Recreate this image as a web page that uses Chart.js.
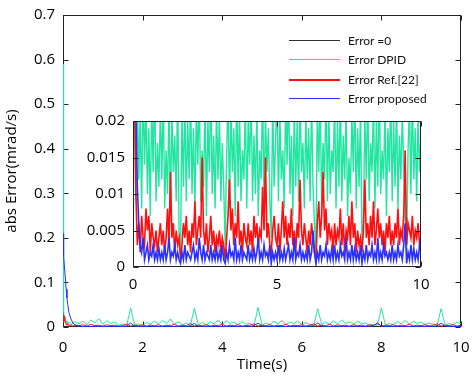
<!DOCTYPE html>
<html lang="en">
<head>
    <meta charset="UTF-8">
    <title>abs Error</title>
    <script src="https://cdn.jsdelivr.net/npm/chart.js"></script>
    <style>
        body { margin: 0; background: #fff; }
        .wrap { position: relative; width: 474px; height: 382px; }
        #mainChart { position: absolute; left: 0; top: 0; }
        #insetChart { position: absolute; left: 70px; top: 108px; }
        .legend { position: absolute; left: 289px; top: 0; font: 12px Lato, sans-serif; color: #111; }
        .legend div { position: absolute; left: 0; height: 21px; width: 160px; display: flex; align-items: center; }
        .legend span.line { display: inline-block; width: 51px; height: 1px; margin-right: 8px; }
    </style>
</head>
<body>
<div class="wrap">
    <canvas id="mainChart" width="474" height="382"></canvas>
    <canvas id="insetChart" width="360" height="195"></canvas>
    <div class="legend" id="legend"></div>
</div>
<script>
    // series names and colours
    const seriesNames = ['Error =0', 'Error DPID', 'Error Ref.[22]', 'Error proposed'];
    const seriesColors = ['#333333', '#22e6a0', '#ff1010', '#2a30ff'];

    // main axes: time (s) and abs error
    const mainTime = [0, 0.01, 0.02, 0.04, 0.06, 0.08, 0.1, 0.12, 0.15, 0.2, 0.25, 0.3,
        0.4, 0.5, 0.6, 0.7, 0.8, 0.9, 1.0, 1.1, 1.2, 1.3,
        1.4, 1.5, 1.6, 1.7, 1.8, 1.9, 2.0, 2.1, 2.2, 2.3,
        2.4, 2.5, 2.6, 2.7, 2.8, 2.9, 3.0, 3.1, 3.2, 3.3,
        3.4, 3.5, 3.6, 3.7, 3.8, 3.9, 4.0, 4.1, 4.2, 4.3,
        4.4, 4.5, 4.6, 4.7, 4.8, 4.9, 5.0, 5.1, 5.2, 5.3,
        5.4, 5.5, 5.6, 5.7, 5.8, 5.9, 6.0, 6.1, 6.2, 6.3,
        6.4, 6.5, 6.6, 6.7, 6.8, 6.9, 7.0, 7.1, 7.2, 7.3,
        7.4, 7.5, 7.6, 7.7, 7.8, 7.9, 8.0, 8.1, 8.2, 8.3,
        8.4, 8.5, 8.6, 8.7, 8.8, 8.9, 9.0, 9.1, 9.2, 9.3,
        9.4, 9.5, 9.6, 9.7, 9.8, 9.9, 10.0];
    const dpidMain = [0.59, 0.12, 0.035, 0.012, 0.02, 0.008, 0.014, 0.006, 0.011, 0.004, 0.009, 0.012,
        0.007, 0.013, 0.005, 0.016, 0.009, 0.019, 0.006, 0.014, 0.008, 0.011,
        0.004, 0.006, 0.003, 0.043, 0.004, 0.007, 0.003, 0.01, 0.006, 0.013,
        0.007, 0.015, 0.008, 0.018, 0.006, 0.012, 0.005, 0.009, 0.003, 0.042,
        0.005, 0.01, 0.004, 0.012, 0.007, 0.016, 0.006, 0.014, 0.008, 0.011,
        0.005, 0.012, 0.006, 0.008, 0.003, 0.044, 0.004, 0.009, 0.005, 0.013,
        0.007, 0.015, 0.006, 0.011, 0.008, 0.013, 0.005, 0.01, 0.006, 0.004,
        0.041, 0.005, 0.011, 0.006, 0.014, 0.007, 0.016, 0.008, 0.012, 0.006,
        0.013, 0.007, 0.009, 0.004, 0.006, 0.003, 0.043, 0.004, 0.008, 0.005,
        0.012, 0.007, 0.015, 0.006, 0.013, 0.008, 0.011, 0.005, 0.009, 0.006,
        0.003, 0.041, 0.004, 0.008, 0.005, 0.011, 0.007];
    const refMain = [0.02, 0.015, 0.01, 0.025, 0.012, 0.006, 0.004, 0.007, 0.003, 0.005, 0.002, 0.004,
        0.003, 0.005, 0.002, 0.006, 0.003, 0.004, 0.002, 0.005, 0.003, 0.004,
        0.002, 0.003, 0.007, 0.002, 0.004, 0.003, 0.005, 0.002, 0.004, 0.003,
        0.005, 0.002, 0.004, 0.003, 0.006, 0.002, 0.004, 0.003, 0.008, 0.002,
        0.004, 0.003, 0.005, 0.002, 0.004, 0.003, 0.006, 0.002, 0.004, 0.003,
        0.005, 0.002, 0.003, 0.004, 0.007, 0.002, 0.004, 0.003, 0.005, 0.002,
        0.004, 0.003, 0.006, 0.002, 0.004, 0.003, 0.005, 0.002, 0.004, 0.007,
        0.002, 0.004, 0.003, 0.006, 0.002, 0.005, 0.003, 0.004, 0.002, 0.005,
        0.003, 0.004, 0.002, 0.005, 0.003, 0.008, 0.002, 0.004, 0.003, 0.005,
        0.002, 0.004, 0.003, 0.006, 0.002, 0.004, 0.003, 0.005, 0.002, 0.004,
        0.007, 0.002, 0.004, 0.003, 0.005, 0.002, 0.004];
    const propMain = [0.21, 0.19, 0.16, 0.13, 0.11, 0.085, 0.065, 0.05, 0.032, 0.018, 0.009, 0.005,
        0.002, 0.001, 0.0015, 0.001, 0.002, 0.001, 0.0015, 0.001, 0.002, 0.001,
        0.0015, 0.001, 0.002, 0.009, 0.002, 0.001, 0.0015, 0.001, 0.002, 0.001,
        0.0015, 0.001, 0.002, 0.001, 0.0015, 0.001, 0.002, 0.001, 0.003, 0.008,
        0.002, 0.001, 0.0015, 0.001, 0.002, 0.001, 0.0015, 0.001, 0.002, 0.001,
        0.0015, 0.001, 0.002, 0.001, 0.003, 0.009, 0.002, 0.001, 0.0015, 0.001,
        0.002, 0.001, 0.0015, 0.001, 0.002, 0.001, 0.0015, 0.001, 0.002, 0.003,
        0.009, 0.002, 0.001, 0.0015, 0.001, 0.002, 0.001, 0.0015, 0.001, 0.002,
        0.001, 0.0015, 0.001, 0.002, 0.003, 0.009, 0.002, 0.001, 0.0015, 0.001,
        0.002, 0.001, 0.0015, 0.001, 0.002, 0.001, 0.0015, 0.001, 0.002, 0.001,
        0.003, 0.009, 0.002, 0.001, 0.0015, 0.001, 0.002];
    const zeroTime = [0, 10];
    const zeroErr = [0, 0];

    // inset axes (zoom on 0..0.02)
    const insetTime = [
        0, 0.05, 0.1, 0.15, 0.2, 0.25, 0.3, 0.35, 0.4, 0.45, 0.5, 0.55, 0.6, 0.65, 0.7, 0.75, 0.8, 0.85, 0.9, 0.95,
        1, 1.05, 1.1, 1.15, 1.2, 1.25, 1.3, 1.35, 1.4, 1.45, 1.5, 1.55, 1.6, 1.65, 1.7, 1.75, 1.8, 1.85, 1.9, 1.95,
        2, 2.05, 2.1, 2.15, 2.2, 2.25, 2.3, 2.35, 2.4, 2.45, 2.5, 2.55, 2.6, 2.65, 2.7, 2.75, 2.8, 2.85, 2.9, 2.95,
        3, 3.05, 3.1, 3.15, 3.2, 3.25, 3.3, 3.35, 3.4, 3.45, 3.5, 3.55, 3.6, 3.65, 3.7, 3.75, 3.8, 3.85, 3.9, 3.95,
        4, 4.05, 4.1, 4.15, 4.2, 4.25, 4.3, 4.35, 4.4, 4.45, 4.5, 4.55, 4.6, 4.65, 4.7, 4.75, 4.8, 4.85, 4.9, 4.95,
        5, 5.05, 5.1, 5.15, 5.2, 5.25, 5.3, 5.35, 5.4, 5.45, 5.5, 5.55, 5.6, 5.65, 5.7, 5.75, 5.8, 5.85, 5.9, 5.95,
        6, 6.05, 6.1, 6.15, 6.2, 6.25, 6.3, 6.35, 6.4, 6.45, 6.5, 6.55, 6.6, 6.65, 6.7, 6.75, 6.8, 6.85, 6.9, 6.95,
        7, 7.05, 7.1, 7.15, 7.2, 7.25, 7.3, 7.35, 7.4, 7.45, 7.5, 7.55, 7.6, 7.65, 7.7, 7.75, 7.8, 7.85, 7.9, 7.95,
        8, 8.05, 8.1, 8.15, 8.2, 8.25, 8.3, 8.35, 8.4, 8.45, 8.5, 8.55, 8.6, 8.65, 8.7, 8.75, 8.8, 8.85, 8.9, 8.95,
        9, 9.05, 9.1, 9.15, 9.2, 9.25, 9.3, 9.35, 9.4, 9.45, 9.5, 9.55, 9.6, 9.65, 9.7, 9.75, 9.8, 9.85, 9.9, 9.95,
        10];
    const dpidInset = [
        0.6, 0.022, 0.009, 0.024, 0.012, 0.021, 0.008, 0.025, 0.014, 0.022, 0.01, 0.019, 0.007, 0.023, 0.013, 0.026, 0.009, 0.017, 0.011, 0.022,
        0.012, 0.024, 0.008, 0.016, 0.01, 0.023, 0.007, 0.021, 0.013, 0.018, 0.009, 0.025, 0.004, 0.002, 0.021, 0.011, 0.023, 0.009, 0.02, 0.012,
        0.024, 0.01, 0.019, 0.008, 0.022, 0.014, 0.025, 0.009, 0.016, 0.011, 0.023, 0.007, 0.02, 0.013, 0.026, 0.01, 0.018, 0.008, 0.022, 0.012,
        0.021, 0.009, 0.017, 0.011, 0.003, 0.015, 0.024, 0.008, 0.022, 0.013, 0.019, 0.007, 0.025, 0.011, 0.021, 0.009, 0.016, 0.012, 0.023, 0.008,
        0.02, 0.014, 0.024, 0.009, 0.018, 0.01, 0.022, 0.007, 0.016, 0.012, 0.025, 0.008, 0.021, 0.013, 0.019, 0.009, 0.004, 0.023, 0.011, 0.017,
        0.024, 0.009, 0.021, 0.012, 0.016, 0.008, 0.023, 0.014, 0.026, 0.01, 0.018, 0.007, 0.022, 0.011, 0.02, 0.009, 0.024, 0.013, 0.017, 0.008,
        0.021, 0.012, 0.019, 0.009, 0.023, 0.011, 0.006, 0.002, 0.022, 0.013, 0.024, 0.008, 0.017, 0.012, 0.025, 0.009, 0.021, 0.01, 0.016, 0.013,
        0.023, 0.008, 0.02, 0.011, 0.024, 0.009, 0.018, 0.012, 0.022, 0.007, 0.015, 0.01, 0.021, 0.013, 0.025, 0.008, 0.019, 0.011, 0.022, 0.003,
        0.006, 0.021, 0.012, 0.024, 0.009, 0.017, 0.013, 0.023, 0.008, 0.02, 0.011, 0.025, 0.01, 0.016, 0.012, 0.022, 0.007, 0.019, 0.013, 0.024,
        0.009, 0.02, 0.011, 0.023, 0.008, 0.018, 0.012, 0.021, 0.014, 0.007, 0.002, 0.016, 0.022, 0.01, 0.024, 0.012, 0.019, 0.009, 0.021, 0.013,
        0.018];
    const refInset = [
        0.05, 0.025, 0.01, 0.003, 0.006, 0.002, 0.007, 0.004, 0.003, 0.008, 0.005, 0.007, 0.002, 0.006, 0.004, 0.003, 0.005, 0.002, 0.004, 0.006,
        0.003, 0.005, 0.002, 0.004, 0.008, 0.003, 0.013, 0.004, 0.006, 0.002, 0.005, 0.003, 0.004, 0.001, 0.003, 0.006, 0.004, 0.007, 0.003, 0.005,
        0.002, 0.006, 0.004, 0.009, 0.003, 0.005, 0.007, 0.004, 0.015, 0.005, 0.003, 0.006, 0.002, 0.004, 0.007, 0.003, 0.005, 0.002, 0.004, 0.003,
        0.005, 0.002, 0.004, 0.003, 0.001, 0.004, 0.007, 0.012, 0.005, 0.008, 0.003, 0.006, 0.004, 0.009, 0.003, 0.005, 0.002, 0.006, 0.004, 0.003,
        0.006, 0.003, 0.005, 0.002, 0.007, 0.004, 0.006, 0.003, 0.005, 0.004, 0.011, 0.005, 0.015, 0.004, 0.006, 0.003, 0.002, 0.005, 0.007, 0.004,
        0.003, 0.006, 0.002, 0.005, 0.009, 0.004, 0.007, 0.003, 0.006, 0.004, 0.008, 0.003, 0.005, 0.002, 0.006, 0.004, 0.012, 0.005, 0.003, 0.006,
        0.004, 0.002, 0.005, 0.003, 0.006, 0.004, 0.002, 0.001, 0.006, 0.009, 0.004, 0.007, 0.013, 0.005, 0.008, 0.003, 0.006, 0.004, 0.005, 0.002,
        0.006, 0.003, 0.005, 0.004, 0.008, 0.003, 0.006, 0.002, 0.005, 0.004, 0.007, 0.003, 0.009, 0.004, 0.006, 0.002, 0.005, 0.003, 0.004, 0.002,
        0.005, 0.012, 0.004, 0.006, 0.003, 0.007, 0.004, 0.009, 0.003, 0.005, 0.008, 0.004, 0.006, 0.003, 0.005, 0.002, 0.006, 0.004, 0.007, 0.003,
        0.005, 0.003, 0.006, 0.004, 0.008, 0.003, 0.005, 0.004, 0.007, 0.016, 0.003, 0.006, 0.005, 0.004, 0.007, 0.003, 0.005, 0.004, 0.006, 0.003,
        0.004];
    const propInset = [
        0.2, 0.06, 0.022, 0.011, 0.006, 0.003, 0.002, 0.004, 0.001, 0.002, 0.003, 0.001, 0.002, 0.0015, 0.003, 0.001, 0.002, 0.001, 0.0025, 0.001,
        0.002, 0.001, 0.003, 0.001, 0.002, 0.004, 0.001, 0.002, 0.0015, 0.003, 0.001, 0.002, 0.001, 0.0005, 0.002, 0.001, 0.003, 0.001, 0.002, 0.0015,
        0.001, 0.002, 0.003, 0.001, 0.002, 0.001, 0.004, 0.002, 0.001, 0.003, 0.001, 0.002, 0.0015, 0.001, 0.003, 0.001, 0.002, 0.001, 0.0025, 0.001,
        0.002, 0.001, 0.003, 0.001, 0.0005, 0.002, 0.001, 0.003, 0.0015, 0.002, 0.001, 0.004, 0.001, 0.002, 0.001, 0.003, 0.001, 0.002, 0.0015, 0.001,
        0.003, 0.001, 0.002, 0.001, 0.0025, 0.001, 0.002, 0.004, 0.001, 0.002, 0.001, 0.003, 0.0015, 0.002, 0.001, 0.003, 0.0005, 0.002, 0.001, 0.002,
        0.001, 0.003, 0.001, 0.002, 0.001, 0.0025, 0.001, 0.002, 0.003, 0.001, 0.002, 0.001, 0.004, 0.001, 0.002, 0.0015, 0.003, 0.001, 0.002, 0.001,
        0.002, 0.001, 0.003, 0.001, 0.002, 0.005, 0.002, 0.0005, 0.002, 0.001, 0.003, 0.001, 0.002, 0.0015, 0.003, 0.001, 0.002, 0.001, 0.0025, 0.001,
        0.003, 0.001, 0.002, 0.001, 0.003, 0.0015, 0.002, 0.001, 0.004, 0.001, 0.002, 0.001, 0.003, 0.001, 0.0025, 0.001, 0.002, 0.001, 0.003, 0.0005,
        0.002, 0.001, 0.003, 0.001, 0.002, 0.0015, 0.003, 0.001, 0.002, 0.001, 0.004, 0.001, 0.002, 0.001, 0.003, 0.0015, 0.002, 0.001, 0.002, 0.001,
        0.003, 0.001, 0.002, 0.001, 0.003, 0.0015, 0.002, 0.001, 0.003, 0.006, 0.0005, 0.002, 0.001, 0.003, 0.001, 0.0025, 0.001, 0.002, 0.001, 0.003,
        0.002];

    // tick values and labels
    const mainXTicks = [0, 2, 4, 6, 8, 10];
    const mainYTicks = [0, 0.1, 0.2, 0.3, 0.4, 0.5, 0.6, 0.7];
    const mainYLabels = ['0', '0.1', '0.2', '0.3', '0.4', '0.5', '0.6', '0.7'];
    const insetXTicks = [0, 5, 10];
    const insetYTicks = [0, 0.005, 0.01, 0.015, 0.02];
    const insetYLabels = ['0', '0.005', '0.01', '0.015', '0.02'];

    Chart.defaults.font.family = "'Open Sans', sans-serif";
    Chart.defaults.font.size = 15;
    Chart.defaults.color = '#000';

    function points(xs, ys) {
        return xs.map((t, i) => ({ x: t, y: ys[i] }));
    }

    function line(idx, xs, ys, width) {
        return {
            label: seriesNames[idx],
            data: points(xs, ys),
            borderColor: seriesColors[idx],
            borderWidth: width,
            pointRadius: 0,
            tension: 0
        };
    }

    // box and inward ticks like matlab
    function drawBox(chart) {
        const { ctx, chartArea: a, scales } = chart;
        const L = Math.round(a.left) + 0.5, R = Math.round(a.right) - 0.5;
        const T = Math.round(a.top) + 0.5, B = Math.round(a.bottom) - 0.5;
        const len = 5;
        ctx.save();
        ctx.strokeStyle = '#222';
        ctx.lineWidth = 1;
        ctx.beginPath();
        scales.x.ticks.forEach(t => {
            const px = Math.round(scales.x.getPixelForValue(t.value)) + 0.5;
            ctx.moveTo(px, B); ctx.lineTo(px, B - len);
            ctx.moveTo(px, T); ctx.lineTo(px, T + len);
        });
        scales.y.ticks.forEach(t => {
            const py = Math.round(scales.y.getPixelForValue(t.value)) + 0.5;
            ctx.moveTo(L, py); ctx.lineTo(L + len, py);
            ctx.moveTo(R, py); ctx.lineTo(R - len, py);
        });
        ctx.stroke();
        ctx.strokeRect(L, T, R - L, B - T);
        ctx.restore();
    }
    const boxTicks = {
        id: 'boxTicks',
        beforeDatasetsDraw(chart, args, opts) {
            const { ctx, chartArea: a } = chart;
            ctx.save();
            ctx.fillStyle = '#fff';
            ctx.fillRect(a.left, a.top, a.right - a.left, a.bottom - a.top);
            ctx.restore();
            if (!opts.onTop) drawBox(chart);
        },
        afterDatasetsDraw(chart, args, opts) {
            if (opts.onTop) drawBox(chart);
        }
    };

    // fixed axis sizes; drop the label overflow padding so the plot box stays put
    function fixSize(s, w, h) {
        if (w) s.width = w;
        if (h) s.height = h;
        s.paddingLeft = s.paddingRight = s.paddingTop = s.paddingBottom = 0;
    }

    function axes(xTicks, yTicks, yLabels, xMax, yMax, yWidth, xHeight, xPad, titles) {
        return {
            x: {
                type: 'linear', min: 0, max: xMax,
                grid: { display: false, drawTicks: false },
                border: { display: false },
                afterBuildTicks: s => { s.ticks = xTicks.map(v => ({ value: v })); },
                afterFit: s => fixSize(s, 0, xHeight),
                ticks: { padding: xPad, maxRotation: 0, callback: v => String(v) },
                title: titles ? { display: true, text: 'Time(s)', padding: { top: 0, bottom: 8 } } : { display: false }
            },
            y: {
                type: 'linear', min: 0, max: yMax,
                grid: { display: false, drawTicks: false },
                border: { display: false },
                afterBuildTicks: s => { s.ticks = yTicks.map(v => ({ value: v })); },
                afterFit: s => fixSize(s, yWidth, 0),
                ticks: { padding: 8, callback: (v, i) => yLabels[i] },
                title: titles ? { display: true, text: 'abs Error(mrad/s)', padding: { top: 3, bottom: 0 } } : { display: false }
            }
        };
    }

    // last dataset is drawn first, so the proposed error ends up on top
    new Chart(document.getElementById('mainChart'), {
        type: 'line',
        data: {
            datasets: [
                line(3, mainTime, propMain, 1),
                line(2, mainTime, refMain, 1),
                line(1, mainTime, dpidMain, 1),
                line(0, zeroTime, zeroErr, 1)
            ]
        },
        options: {
            responsive: false,
            animation: false,
            layout: { padding: { left: 0, right: 13, top: 15, bottom: 0 } },
            plugins: { legend: { display: false }, tooltip: { enabled: false }, boxTicks: { onTop: false } },
            scales: axes(mainXTicks, mainYTicks, mainYLabels, 10, 0.7, 63, 55, 12, true)
        },
        plugins: [boxTicks]
    });

    new Chart(document.getElementById('insetChart'), {
        type: 'line',
        data: {
            datasets: [
                line(3, insetTime, propInset, 1.6),
                line(2, insetTime, refInset, 1.6),
                line(1, insetTime, dpidInset, 1.4),
                line(0, zeroTime, zeroErr, 1)
            ]
        },
        options: {
            responsive: false,
            animation: false,
            layout: { padding: { left: 0, right: 9, top: 13, bottom: 0 } },
            plugins: { legend: { display: false }, tooltip: { enabled: false }, boxTicks: { onTop: true } },
            scales: axes(insetXTicks, insetYTicks, insetYLabels, 10, 0.02, 63, 36, 9, false)
        },
        plugins: [boxTicks]
    });

    // legend in the top right corner of the main axes
    const legendRows = [30, 49, 69, 88];
    const legendLine = [1, 1, 2, 1];
    const legend = document.getElementById('legend');
    seriesNames.forEach((name, i) => {
        const row = document.createElement('div');
        row.style.top = legendRows[i] + 'px';
        row.innerHTML = `<span class="line" style="background:${seriesColors[i]};height:${legendLine[i]}px"></span>${name}`;
        legend.appendChild(row);
    });
</script>
</body>
</html>
